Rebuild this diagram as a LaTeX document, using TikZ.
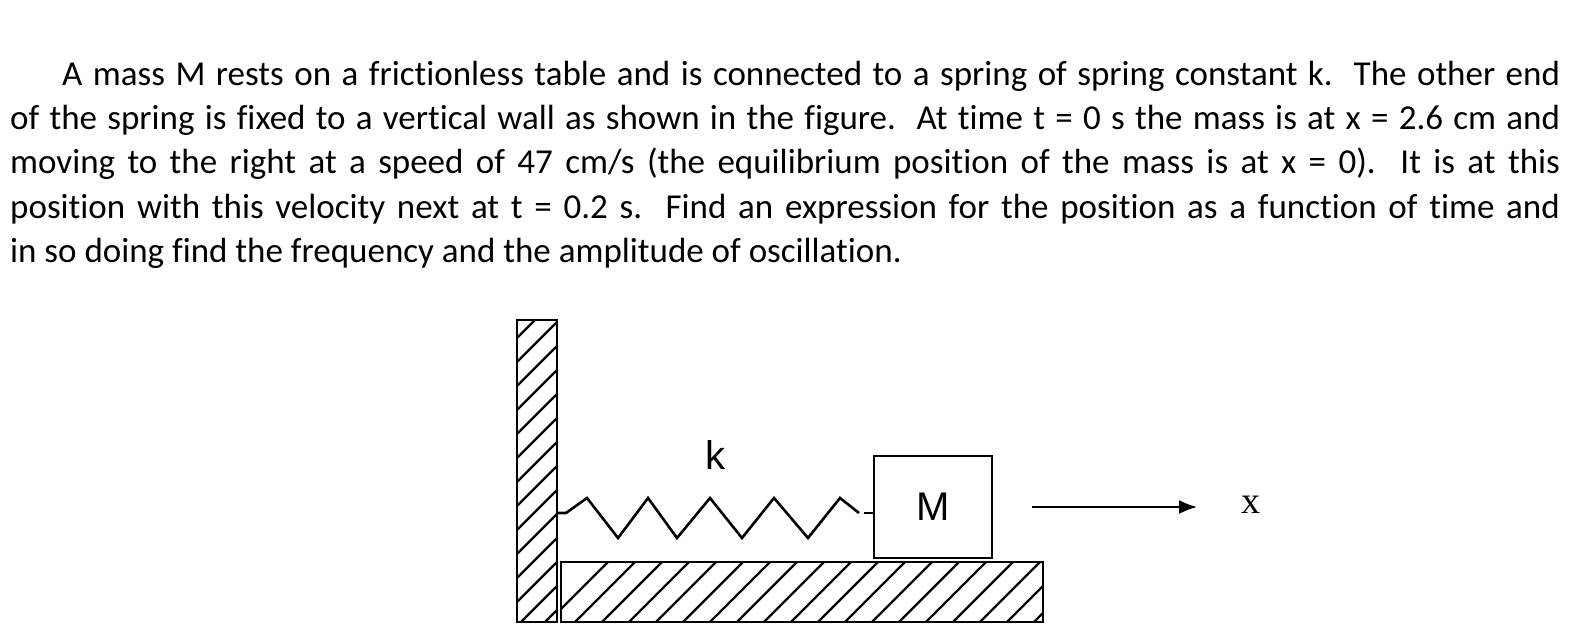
\documentclass[tikz,border=0pt]{standalone}
\usepackage{fontspec}
\setmainfont[Ligatures=NoCommon]{Carlito}
\newfontfamily\arialf{Liberation Sans}
\newfontfamily\timesf{Liberation Serif}
\usetikzlibrary{arrows.meta}
\begin{document}
\begin{tikzpicture}[x=1pt,y=-1pt,
  txt/.style={anchor=base west,inner sep=0pt,font=\fontsize{35}{44}\selectfont},
  obj/.style={draw,line width=2.6pt},
  hatch/.style={line width=2.2pt}]
\useasboundingbox (0,0) rectangle (1575,631);
\node[txt] (l1) at (62,86) {\makebox[1498pt][s]{A mass M rests on a frictionless table and is connected to a spring of spring constant k.\ \ The other end}};
\node[txt] (l2) at (10,130) {\makebox[1550pt][s]{of the spring is fixed to a vertical wall as shown in the figure.\ \ At time t = 0 s the mass is at x = 2.6 cm and}};
\node[txt] (l3) at (10,174) {\makebox[1550pt][s]{moving to the right at a speed of 47 cm/s (the equilibrium position of the mass is at x = 0).\ \ It is at this}};
\node[txt] (l4) at (10,219) {\makebox[1550pt][s]{position with this velocity next at t = 0.2 s.\ \ Find an expression for the position as a function of time and}};
\node[txt] (l5) at (10,263) {in so doing find the frequency and the amplitude of oscillation.};
% wall
\begin{scope}
\clip (517,320) rectangle (557,622);
\foreach \i in {0,...,13} {\draw[hatch] (510,345+\i*24) -- (565,290+\i*24);}
\end{scope}
\draw[obj] (517,320) rectangle (557,622);
\node[inner sep=0pt,minimum width=40pt,minimum height=302pt] (wall) at (537,471) {};
% table
\begin{scope}
\clip (561,562) rectangle (1043,622);
\foreach \i in {0,...,22} {\draw[hatch] (540+\i*27,630) -- (615+\i*27,555);}
\end{scope}
\draw[obj] (561,562) rectangle (1043,622);
% mass
\node[obj,fill=white,minimum width=118pt,minimum height=102pt,inner sep=0pt,font=\arialf\fontsize{40}{40}\selectfont] (M) at (933,507) {M};
% spring
\coordinate (s0) at (wall.east |- 0,513);
\coordinate (s1) at (M.west |- 0,513);
\draw[line width=2.6pt,line join=miter] (s0) -- (566,513) -- (587,498) -- (618,538) -- (648,498) -- (677,538) -- (710,498) -- (742,538) -- (774,498) -- (808,538) -- (840,498) -- (859,513);
\draw[line width=2.6pt] (864,513) -- (s1);
\node[font=\arialf\fontsize{40}{40}\selectfont] (k) at (715,455) {k};
% axis
\coordinate (a0) at (1032,507);
\coordinate (a1) at (1197,507);
\draw[line width=1.8pt,-{Latex[length=18pt,width=14pt]}] (a0) -- (a1);
\node[font=\timesf\fontsize{38}{40}\selectfont] (xl) at (1251,505) {x};
\end{tikzpicture}
\end{document}
